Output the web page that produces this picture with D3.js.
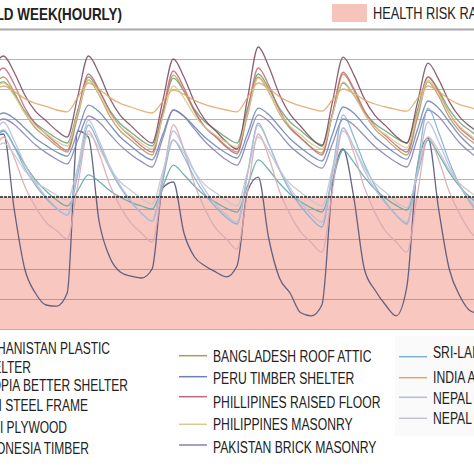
<!doctype html>
<html lang="en">
<head>
  <meta charset="utf-8">
  <title>cold week hourly</title>
  <script src="https://cdn.jsdelivr.net/npm/d3@7"></script>
  <style>
    body { margin: 0; background: #fff; }
    svg { display: block; }
    text { font-family: 'Liberation Sans Narrow', 'Arial Narrow', 'Liberation Sans', sans-serif; fill: #222; }
  </style>
</head>
<body>
<svg id="chart" width="474" height="474"></svg>
<script>
// hours of the week, every 3 hours (x axis)
var hours = d3.range(-2, 137, 3);
var riskLimit = 12; // upper edge of the health risk range

// indoor temperature, one value per 3 hours
var afghanistan = [22, 22.5,10,0,-4,-6,-6.2,-4,23, 22,8,2,-0.5,-1.2,-1.5,0,13.5, 14.5,6,2,0.5,-0.5,-1.3,0.5,13, 15.3,5,-1.5,-4,-7.3,-7.8,-6,14, 20,12,0,-3.5,-6,-7.8,-3,17, 21.8,10,0,-4.5,-7,-7.5];
var ethiopia = [21.5, 23,20.5,17.4,14.9,13,11.5,10.5,13.1, 15.7,14.6,13.1,12,11.1,10.5,10,13.7, 17.3,15.7,13.8,12.2,11.1,10.1,9.5,13.9, 18.2,16.5,14.3,12.5,11.2,10.2,9.5,14.7, 19.8,17.8,15.3,13.3,11.8,10.6,9.8,15.7, 21.5,19.1,16.1,13.7,11.9,10.5];
var haitiSteel = [19, 22,18.6,13.8,10.4,7.8,6.4,5,14, 23,19.3,14.1,10.4,7.7,6,4.5,14.3, 24,19.9,14.1,9.9,6.8,5,3.3,12.9, 22.5,18.6,13,9.1,6.2,4.4,2.8,13.2, 23.5,19.4,13.6,9.4,6.3,4.5,2.8,12.4, 22,18.2,12.9,9.1,6.2,4.5];
var haitiPlywood = [30.2, 31.2,29.2,26.3,24.3,23,21.8,21,26.5, 32,29.7,26.5,24.2,22.8,21.4,20.5,26.2, 31.8,29.6,26.6,24.5,23.2,21.9,21,26.8, 32.5,30.1,26.8,24.5,23.1,21.6,20.7,25.8, 31,29,26.2,24.2,23,21.8,21,26.5, 32,29.8,26.6,24.4,23,21.7];
var indonesia = [33.5, 35.5,32.8,29.0,26.3,24.7,23.1,22.0,28.8, 35.5,32.6,28.5,25.6,23.9,22.2,21.0,28.0, 35,32,27.8,24.8,23,21.2,20,28.5, 37,33.7,29.1,25.8,23.8,21.8,20.5,27.9, 35.3,32.4,28.4,25.6,23.9,22.1,21,27.7, 34.3,31.6,27.9,25.3,23.7,22.5];
var bangladesh = [30.5, 32,29.5,26,23.5,22,20.5,19.5,25.5, 31.5,29,25.5,23,21.5,20,19,25.6, 32.3,29.7,26.2,23.6,22.1,20.5,19.5,25.7, 32,29.5,25.9,23.4,21.8,20.3,19.3,25.9, 32.5,29.8,26,23.3,21.7,20.1,19,25.1, 31.2,28.8,25.3,22.9,21.4,20];
var peru = [25, 26,25.1,23.5,21.8,20.6,19.5,18.8,23, 27.3,26.2,24.1,22,20.5,19.1,18.2,22.4, 26.5,25.5,23.7,21.9,20.5,19.3,18.5,22.6, 26.8,25.7,23.7,21.7,20.2,18.9,18,22.5, 27,26,24,22,20.5,19.2,18.3,23.2, 28,26.8,24.5,22.2,20.5,19];
var philRaised = [31.5, 33.5,30.8,26.9,24.2,22.5,20.9,19.8,26.2, 32.5,29.9,26.3,23.7,22.1,20.5,19.5,26.3, 33,30.2,26.4,23.6,22,20.3,19.2,26.4, 33.5,30.6,26.5,23.6,21.9,20.2,19,25.9, 32.8,30.1,26.4,23.8,22.2,20.6,19.5,25.8, 32,29.5,26,23.5,22,20.5];
var philMasonry = [30, 31,28.9,26,23.9,22.6,21.3,20.5,26, 31.5,29.2,26,23.7,22.3,20.9,20,25.3, 30.5,28.5,25.6,23.6,22.3,21.1,20.3,26, 31.8,29.4,26.1,23.8,22.4,20.9,20,25.6, 31.2,29,25.9,23.7,22.4,21.1,20.2,25.9, 31.5,29.2,26,23.7,22.3,20.9];
var pakistan = [24, 25,24.1,22.4,20.7,19.4,18.3,17.5,21.5, 25.5,24.5,22.5,20.6,19.1,17.9,17,21.8, 26.5,25.4,23.3,21.2,19.6,18.2,17.3,21.5, 25.7,24.6,22.6,20.5,19,17.7,16.8,20.9, 25,24,22.2,20.4,19,17.8,17,21.8, 26.5,25.4,23.2,21,19.4,18];
var sriLanka = [21, 23.2,20.4,16.8,14,11.8,10.1,9,15.8, 24,20.8,16.8,13.6,11.2,9.3,8,14.8, 21.5,18.7,15.2,12.4,10.3,8.6,7.5,15.9, 24.3,20.8,16.5,13,10.5,8.4,7,16.4, 25.7,22.1,17.5,13.9,11.1,9,7.5,17.2, 26.8,22.8,17.9,13.9,11,8.6];
var india = [29.5, 30.5,29.6,28.4,27.6,27.1,26.5,26.2,28.6, 31,30,28.6,27.6,27,26.4,26,27.9, 29.8,29.1,28.1,27.4,26.9,26.5,26.2,28.6, 31,30.1,28.7,27.8,27.2,26.7,26.3,28.2, 30,29.3,28.2,27.5,27,26.6,26.3,28.4, 30.5,29.6,28.3,27.4,26.9,26.4];
var nepalA = [22, 24.5,21.4,17.5,14.4,12.1,10.2,9,16.9, 24.8,21.4,17.2,13.9,11.4,9.3,8,15.5, 23,20,16.2,13.1,10.8,9,7.8,15.9, 24,20.8,16.7,13.5,11.1,9.1,7.8,15.7, 23.5,20.4,16.4,13.3,10.9,9,7.8,16.2, 24.5,21.2,17.1,13.8,11.3,9.3];
var nepalB = [19.5, 21,19.1,16.4,14.5,13.4,12.3,11.5,17, 22.5,20.2,16.9,14.5,13.1,11.7,10.8,16.2, 21.5,19.3,16.2,14,12.7,11.4,10.5,16.3, 22,19.7,16.5,14.2,12.8,11.4,10.5,16.8, 23,20.4,16.9,14.3,12.8,11.2,10.2,16.1, 22,19.7,16.5,14.2,12.8,11.4];

var seriesNames = ["AFGHANISTAN PLASTIC|SHELTER", "ETHIOPIA BETTER SHELTER", "HAITI STEEL FRAME", "HAITI PLYWOOD", "INDONESIA  TIMBER",
  "BANGLADESH ROOF ATTIC", "PERU TIMBER SHELTER", "PHILLIPINES RAISED FLOOR", "PHILIPPINES MASONRY", "PAKISTAN BRICK MASONRY",
  "SRI-LANKA TIMBER", "INDIA ADOBE", "NEPAL BAMBOO", "NEPAL CGI"];
var seriesValues = [afghanistan, ethiopia, haitiSteel, haitiPlywood, indonesia,
  bangladesh, peru, philRaised, philMasonry, pakistan,
  sriLanka, india, nepalA, nepalB];
var colors = ["#4f5276", "#5fa6a4", "#d9a9b3", "#6da16f", "#7b4a62",
  "#b8955f", "#6b84b4", "#c06a78", "#d6c98f", "#8682b0",
  "#7fb0d2", "#e2a66a", "#b6bcdb", "#c2c6cc"];

var W = 474, plotTop = 29, plotBottom = 329;
var svg = d3.select("#chart");
var x = d3.scaleLinear().domain([0, 134]).range([0, W]);
var y = d3.scaleLinear().domain([-10, 40]).range([plotBottom, plotTop]);

// no narrow font installed, so texts get squeezed sideways
function label(px, py, size, squeeze, str) {
  return svg.append("text")
    .attr("transform", "translate(" + px + "," + py + ") scale(" + squeeze + ",1)")
    .attr("font-size", size)
    .text(str);
}

svg.append("defs").append("clipPath").attr("id", "plot")
  .append("rect").attr("x", 0).attr("y", plotTop).attr("width", W).attr("height", plotBottom - plotTop);

// health risk band
svg.append("rect")
  .attr("x", 0).attr("y", y(riskLimit)).attr("width", W).attr("height", y(-10) - y(riskLimit))
  .attr("fill", "#f8c7c0");

// grid
var grid = svg.append("g").call(d3.axisRight(y).ticks(10).tickSize(W).tickFormat(""));
grid.select(".domain").remove();
grid.selectAll(".tick line").attr("stroke", "#777").attr("stroke-opacity", 0.55).attr("stroke-width", 1.2);
grid.selectAll(".tick").filter(function(d) { return d == 40; }).select("line")
  .attr("stroke", "#aaa").attr("stroke-opacity", 1).attr("stroke-width", 2);

// lines
var line = d3.line()
  .x(function(d, i) { return x(hours[i]); })
  .y(function(d) { return y(d); })
  .curve(d3.curveMonotoneX);

svg.append("g").attr("clip-path", "url(#plot)")
  .selectAll("path").data(seriesValues).enter()
  .append("path")
    .attr("d", line)
    .attr("fill", "none")
    .attr("stroke", function(d, i) { return colors[i]; })
    .attr("stroke-width", 1.3)
    .attr("stroke-opacity", 0.88);

// threshold
svg.append("line")
  .attr("x1", 0).attr("x2", W).attr("y1", y(riskLimit)).attr("y2", y(riskLimit))
  .attr("stroke", "#222").attr("stroke-width", 1.3).attr("stroke-dasharray", "3,1");

// title + header legend
label(122, 20, 16, 0.84, "TEMPERATURE IN A COLD WEEK(HOURLY)")
  .attr("text-anchor", "end").attr("font-weight", "bold");
svg.append("rect").attr("x", 332).attr("y", 4).attr("width", 35).attr("height", 18).attr("fill", "#f7c4bb");
label(373, 19, 16, 0.8, "HEALTH RISK RANGE");

// bottom legend
svg.append("rect").attr("x", 395).attr("y", 336).attr("width", 79).attr("height", 100).attr("fill", "#fafafa");

// left column runs off the picture, so it is placed by its right ends
var leftEnds = [110, 128, 88, 67, 89];
var leftRows = [353.5, 390.5, 410.5, 432.5, 453.5];
leftEnds.forEach(function(ex, r) {
  var parts = seriesNames[r].split("|");
  label(ex, leftRows[r], 16, 0.75, parts[0]).attr("text-anchor", "end");
  if (parts[1]) label(31, leftRows[r] + 19.5, 16, 0.75, parts[1]).attr("text-anchor", "end");
});

var colX = [213, 433];
var rowsY = [[361.5, 384, 407.5, 430, 452.5], [357.5, 382.5, 403.5, 424]];
var swatchY = [[355.7, 376.7, 396.7, 424.3, 445], [356.7, 377.7, 397.3, 418.3]];
var start = leftEnds.length;
colX.forEach(function(cx, c) {
  rowsY[c].forEach(function(ry, r) {
    var i = start + r;
    svg.append("line")
      .attr("x1", cx - 34).attr("x2", cx - 6).attr("y1", swatchY[c][r]).attr("y2", swatchY[c][r])
      .attr("stroke", colors[i]).attr("stroke-width", 1.5);
    label(cx, ry, 16, 0.76, seriesNames[i]);
  });
  start += rowsY[c].length;
});
</script>
</body>
</html>
